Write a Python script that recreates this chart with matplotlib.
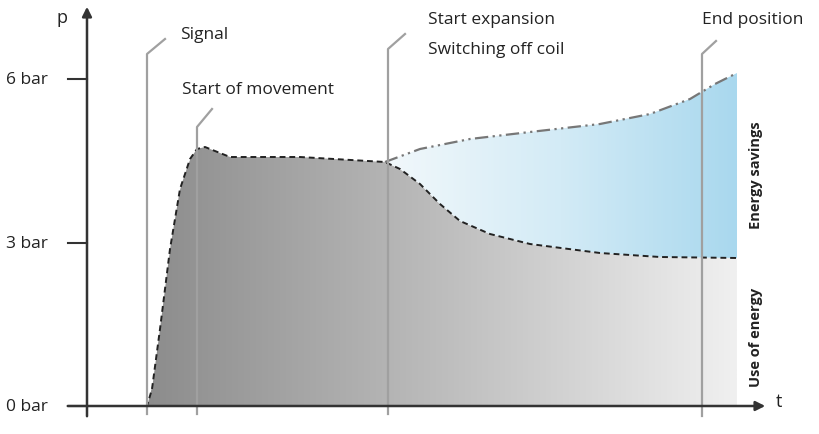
import numpy as np
import matplotlib
matplotlib.use("Agg")
import matplotlib.pyplot as plt
from matplotlib.patches import Polygon
from matplotlib.colors import LinearSegmentedColormap

plt.rcParams['font.family'] = ['Open Sans', 'DejaVu Sans']

# data (x in time units ~ pixels, y in bar)
px_to_bar = lambda py: (407 - np.asarray(py)) / 54.5
dash_x = [87, 147, 152, 160, 170, 180, 190, 197, 205, 215, 230, 300, 385, 400, 420, 440, 460, 490, 530, 600, 660, 737]
dash_py = [407, 407, 390, 330, 250, 190, 160, 150, 148, 152, 158, 158, 163, 170, 185, 205, 222, 235, 245, 254, 258, 259]
up_x = [385, 420, 470, 530, 600, 650, 690, 715, 737]
up_py = [163, 150, 140, 133, 125, 115, 100, 85, 74]
dash_y = px_to_bar(dash_py)
up_y = px_to_bar(up_py)
yticks = [0, 3, 6]
ytick_labels = ['0 bar', '3 bar', '6 bar']

fig = plt.figure(figsize=(8.2, 4.35), dpi=100)
ax = fig.add_axes([0, 0, 1, 1])
ax.set_xlim(0, 820)
ax.set_ylim(px_to_bar(435), px_to_bar(0))
ax.axis('off')

# grey gradient under dashed curve
gx = np.linspace(147, 737, 200)
gy = np.interp(gx, dash_x, dash_y)
grey = LinearSegmentedColormap.from_list('g', ['#8c8c8c', '#bdbdbd', '#f0f0f0'])
im = ax.imshow(np.linspace(0, 1, 256)[None, :], extent=[147, 737, 0, 7], cmap=grey,
               aspect='auto', zorder=1)
poly = Polygon(np.column_stack([np.r_[147, gx, 737], np.r_[0, gy, 0]]), closed=True,
               transform=ax.transData, facecolor='none', edgecolor='none')
ax.add_patch(poly)
im.set_clip_path(poly)

# blue gradient between curves
bx = np.linspace(385, 737, 200)
lo = np.interp(bx, dash_x, dash_y)
hi = np.interp(bx, up_x, up_y)
blue = LinearSegmentedColormap.from_list('b', ['#f2f8fb', '#d3ebf6', '#a9d8ee'])
im2 = ax.imshow(np.linspace(0, 1, 256)[None, :], extent=[385, 737, 0, 7], cmap=blue,
                aspect='auto', zorder=1)
poly2 = Polygon(np.column_stack([np.r_[bx, bx[::-1]], np.r_[lo, hi[::-1]]]), closed=True,
                facecolor='none', edgecolor='none')
ax.add_patch(poly2)
im2.set_clip_path(poly2)

ax.plot(dash_x, dash_y, color='#222', ls=(0, (3, 2)), lw=1.4, zorder=3)
ax.plot(up_x, up_y, color='#777', ls=(0, (6, 2, 1, 2, 1, 2)), lw=1.6, zorder=3)

# marker lines
lc = '#a0a0a0'
for xs, ys in [([147, 147, 165], [415, 55, 40]),
               ([197, 197, 212], [415, 128, 110]),
               ([388, 388, 405], [415, 50, 35]),
               ([702, 702, 716], [417, 55, 42])]:
    ax.plot(xs, px_to_bar(ys), color=lc, lw=1.6, zorder=4)

# axes arrows
ax.annotate('', xy=(87, px_to_bar(5)), xytext=(87, px_to_bar(420)),
            arrowprops=dict(arrowstyle='-|>', color='#333', lw=1.8, mutation_scale=14), zorder=5)
ax.annotate('', xy=(768, 0), xytext=(65, 0),
            arrowprops=dict(arrowstyle='-|>', color='#333', lw=1.8, mutation_scale=14), zorder=5)
for v, lab in zip(yticks, ytick_labels):
    ax.plot([68, 87], [v, v], color='#333', lw=1.5)
    ax.text(6, v, lab, fontsize=12.5, va='center', ha='left', color='#222')
ax.text(62, px_to_bar(18), 'p', fontsize=13, ha='center', va='center', color='#222')
ax.text(779, px_to_bar(402), 't', fontsize=13, ha='center', va='center', color='#222')

tk = dict(fontsize=12.5, color='#222', va='center', ha='left')
ax.text(180, px_to_bar(35), 'Signal', **tk)
ax.text(182, px_to_bar(90), 'Start of movement', **tk)
ax.text(428, px_to_bar(20), 'Start expansion', **tk)
ax.text(428, px_to_bar(50), 'Switching off coil', **tk)
ax.text(702, px_to_bar(20), 'End position', **tk)
ax.text(756, px_to_bar(175), 'Energy savings', rotation=90, fontsize=10.5,
        fontweight='bold', ha='center', va='center', color='#222')
ax.text(756, px_to_bar(337), 'Use of energy', rotation=90, fontsize=10.5,
        fontweight='bold', ha='center', va='center', color='#222')

fig.savefig('out.png', dpi=100)
